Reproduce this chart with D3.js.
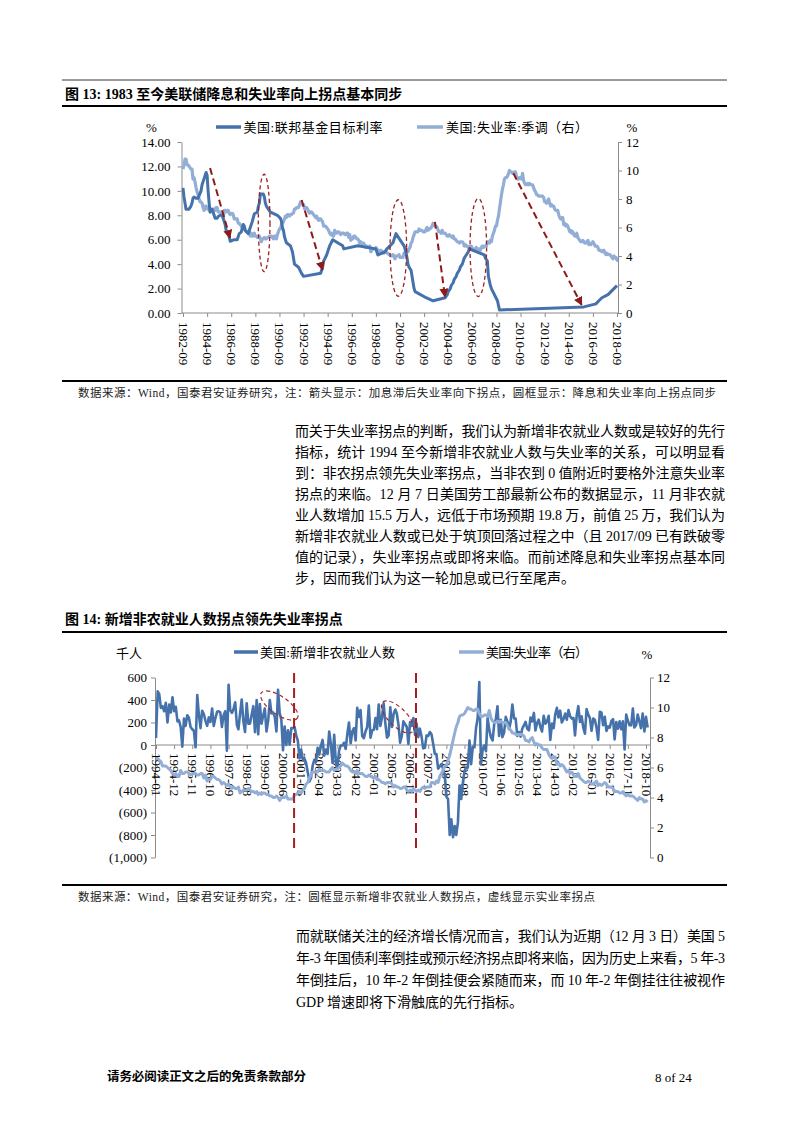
<!DOCTYPE html>
<html><head><meta charset="utf-8">
<script src="https://cdn.jsdelivr.net/npm/d3@7"></script>
<style>body{margin:0;background:#fff}</style>
</head><body>
<svg id="page" width="793" height="1122"></svg>
<script>
// ===== DATA =====
// US unemployment rate (SA, %), monthly from 1982-09
const unempStart = "1982-09";
const unemploymentRate = [
 10.1,10.4,10.8,10.8,
 10.4,10.4,10.3,10.2,10.1,10.1,9.4,9.5,9.2,8.8,8.5,8.3,
 8.0,7.8,7.8,7.7,7.4,7.2,7.5,7.5,7.3,7.4,7.2,7.3,
 7.3,7.2,7.2,7.3,7.2,7.4,7.4,7.1,7.1,7.1,7.0,7.0,
 6.7,7.2,7.2,7.1,7.2,7.2,7.0,6.9,7.0,7.0,6.9,6.6,
 6.6,6.6,6.6,6.3,6.3,6.2,6.1,6.0,5.9,6.0,5.8,5.7,
 5.7,5.7,5.7,5.4,5.6,5.4,5.4,5.6,5.4,5.4,5.3,5.3,
 5.4,5.2,5.0,5.2,5.2,5.3,5.2,5.2,5.3,5.3,5.4,5.4,
 5.4,5.3,5.2,5.4,5.4,5.2,5.5,5.7,5.9,5.9,6.2,6.3,
 6.4,6.6,6.8,6.7,6.9,6.9,6.8,6.9,6.9,7.0,7.0,7.3,
 7.3,7.4,7.4,7.4,7.6,7.8,7.7,7.6,7.6,7.3,7.4,7.4,
 7.3,7.1,7.0,7.1,7.1,7.0,6.9,6.8,6.7,6.8,6.6,6.5,
 6.6,6.6,6.5,6.4,6.1,6.1,6.1,6.0,5.9,5.8,5.6,5.5,
 5.6,5.4,5.4,5.8,5.6,5.6,5.7,5.7,5.6,5.5,5.6,5.6,
 5.6,5.5,5.5,5.6,5.6,5.3,5.5,5.1,5.2,5.2,5.4,5.4,
 5.3,5.2,5.2,5.1,4.9,5.0,4.9,4.8,4.9,4.7,4.6,4.7,
 4.6,4.6,4.7,4.3,4.4,4.5,4.5,4.5,4.6,4.5,4.4,4.4,
 4.3,4.4,4.2,4.3,4.2,4.3,4.3,4.2,4.2,4.1,4.1,4.0,
 4.0,4.1,4.0,3.8,4.0,4.0,4.0,4.1,3.9,3.9,3.9,3.9,
 4.2,4.2,4.3,4.4,4.3,4.5,4.6,4.9,5.0,5.3,5.5,5.7,
 5.7,5.7,5.7,5.9,5.8,5.8,5.8,5.7,5.7,5.7,5.9,6.0,
 5.8,5.9,5.9,6.0,6.1,6.3,6.2,6.1,6.1,6.0,5.8,5.7,
 5.7,5.6,5.8,5.6,5.6,5.6,5.5,5.4,5.4,5.5,5.4,5.4,
 5.3,5.4,5.2,5.2,5.1,5.0,5.0,4.9,5.0,5.0,5.0,4.9,
 4.7,4.8,4.7,4.7,4.6,4.6,4.7,4.7,4.5,4.4,4.5,4.4,
 4.6,4.5,4.4,4.5,4.4,4.6,4.7,4.6,4.7,4.7,4.7,5.0,
 5.0,4.9,5.1,5.0,5.4,5.6,5.8,6.1,6.1,6.5,6.8,7.3,
 7.8,8.3,8.7,9.0,9.4,9.5,9.5,9.6,9.8,10.0,9.9,9.9,
 9.8,9.8,9.9,9.9,9.6,9.4,9.4,9.5,9.5,9.4,9.8,9.3,
 9.1,9.0,9.0,9.1,9.0,9.1,9.0,9.0,9.0,8.8,8.6,8.5,
 8.3,8.3,8.2,8.2,8.2,8.2,8.2,8.1,7.8,7.8,7.7,7.9,
 8.0,7.7,7.5,7.6,7.5,7.5,7.3,7.2,7.2,7.2,6.9,6.7,
 6.6,6.7,6.7,6.2,6.3,6.1,6.2,6.1,5.9,5.7,5.8,5.6,
 5.7,5.5,5.4,5.4,5.6,5.3,5.2,5.1,5.0,5.0,5.1,5.0,
 4.9,4.9,5.0,5.1,4.8,4.9,4.8,4.9,5.0,4.9,4.7,4.7,
 4.7,4.6,4.4,4.4,4.4,4.3,4.3,4.4,4.2,4.1,4.2,4.1,
 4.1,4.1,4.0,3.9,3.8,4.0,3.9,3.9,3.7,3.8,3.7
];

// Fed funds target rate (%), at each change date
const fedDates = ["1982-09","1982-10","1982-11","1982-12","1983-03","1983-05","1983-06","1983-07","1983-08","1983-10","1983-12",
 "1984-03","1984-04","1984-06","1984-08","1984-09","1984-10","1984-11","1984-12","1985-02","1985-04","1985-05","1985-07","1985-08","1985-10","1985-12",
 "1986-03","1986-04","1986-07","1986-08","1986-12","1987-03","1987-05","1987-07","1987-09","1987-10","1987-11",
 "1988-02","1988-03","1988-05","1988-06","1988-08","1988-11","1988-12","1989-01","1989-02","1989-05","1989-06","1989-07","1989-08","1989-10","1989-12",
 "1990-07","1990-10","1990-11","1990-12","1991-01","1991-02","1991-03","1991-04","1991-08","1991-09","1991-10","1991-11","1991-12",
 "1992-04","1992-07","1992-09","1994-02","1994-03","1994-04","1994-05","1994-08","1994-11","1995-02","1995-07","1995-12","1996-01",
 "1997-03","1998-09","1998-10","1998-11","1999-06","1999-08","1999-11","2000-02","2000-03","2000-05",
 "2001-01","2001-03","2001-04","2001-05","2001-06","2001-08","2001-09","2001-10","2001-11","2001-12","2002-11","2003-06",
 "2004-06","2004-08","2004-09","2004-11","2004-12","2005-02","2005-03","2005-05","2005-06","2005-08","2005-09","2005-11","2005-12",
 "2006-01","2006-03","2006-05","2006-06","2007-09","2007-10","2007-12","2008-01","2008-03","2008-04","2008-10","2008-12",
 "2015-12","2016-12","2017-03","2017-06","2017-12","2018-03","2018-06","2018-09"];
const fedRates = [10.25,9.5,9.0,8.5,8.5,8.75,9.0,9.4,9.5,9.4,9.4,
 10.0,10.5,11.0,11.5,11.25,10.0,9.0,8.25,8.5,8.0,7.75,7.75,7.9,8.0,8.0,
 7.25,6.75,6.25,5.875,6.0,6.0,6.5,6.625,7.25,7.125,6.75,
 6.5,6.75,7.25,7.5,8.125,8.25,8.75,9.0,9.75,9.75,9.5,9.0,8.75,8.5,8.25,
 8.0,7.75,7.5,7.0,6.75,6.25,6.0,5.75,5.5,5.25,5.0,4.5,4.0,
 3.75,3.25,3.0,3.25,3.5,3.75,4.25,4.75,5.5,6.0,5.75,5.5,5.25,
 5.5,5.25,5.0,4.75,5.0,5.25,5.5,5.75,6.0,6.5,
 5.5,5.0,4.5,4.0,3.75,3.5,3.0,2.5,2.0,1.75,1.25,1.0,
 1.25,1.5,1.75,2.0,2.25,2.5,2.75,3.0,3.25,3.5,3.75,4.0,4.25,
 4.5,4.75,5.0,5.25,4.75,4.5,4.25,3.0,2.25,2.0,1.0,0.25,
 0.5,0.75,1.0,1.25,1.5,1.75,2.0,2.25];

// US nonfarm payrolls, monthly change (thousands), from 1994-01
const nfpStart = "1994-01";
const nonfarmPayrolls = [
 62,477,455,330,345,300,375,200,360,290,425,300,
 340,210,220,160,-15,235,170,265,240,160,140,125,
 -20,445,275,150,305,275,215,170,245,205,325,170,
 240,295,300,290,160,265,300,-50,536,310,285,320,
 380,180,140,280,405,210,115,370,190,190,270,345,
 115,400,95,365,190,260,325,120,215,400,280,290,
 250,120,490,285,225,-46,165,0,130,2,150,150,
 160,80,40,-120,-40,-130,-120,-160,-245,-325,-290,-180,
 -130,-150,-25,-85,-10,45,-95,-40,-80,120,10,-160,
 90,-160,-210,-50,-5,-5,20,-35,100,200,15,120,
 150,40,330,250,310,80,60,120,160,350,65,130,
 135,240,140,360,170,245,370,195,65,85,335,160,
 275,315,280,180,20,80,210,185,160,10,205,170,
 240,90,190,70,145,75,-30,-25,85,80,115,95,
 10,-80,-80,-210,-190,-170,-210,-270,-460,-480,-800,-660,
 -820,-720,-800,-690,-360,-480,-340,-230,-200,-200,40,-170,
 -15,-20,150,240,560,-170,-45,-5,-55,240,135,70,
 40,190,225,345,80,225,70,110,250,210,140,210,
 360,235,235,80,115,75,145,175,205,145,130,245,
 210,285,130,195,225,160,120,260,190,210,260,45,
 190,150,270,330,245,305,200,230,280,225,310,255,
 235,240,85,260,345,205,255,155,100,320,270,240,
 125,235,225,155,45,295,290,175,250,125,165,155,
 215,230,50,205,145,210,140,210,-40,270,215,175,
 175,325,155,175,270,210,150,280,120,250,155
];

// Tick labels
const chart1XTicks = ["1982-09","1984-09","1986-09","1988-09","1990-09","1992-09","1994-09","1996-09","1998-09","2000-09","2002-09","2004-09","2006-09","2008-09","2010-09","2012-09","2014-09","2016-09","2018-09"];
const chart1LeftTicks = [0,2,4,6,8,10,12,14];
const chart1RightTicks = [0,2,4,6,8,10,12];
const chart2XTicks = ["1994-01","1994-12","1995-11","1996-10","1997-09","1998-08","1999-07","2000-06","2001-05","2002-04","2003-03","2004-02","2005-01","2005-12","2006-11","2007-10","2008-09","2009-08","2010-07","2011-06","2012-05","2013-04","2014-03","2015-02","2016-01","2016-12","2017-11","2018-10"];
const chart2LeftTicks = [-1000,-800,-600,-400,-200,0,200,400,600];
const chart2RightTicks = [0,2,4,6,8,10,12];

// Annotations (in data coordinates)
const chart1Arrows = [ // [startYear, startValue, endYear, endValue] on left axis
 [1984.91,11.87,1986.57,6.14],[1992.51,9.25,1994.25,3.52],[2003.57,7.47,2004.40,1.33],[2010.07,11.44,2015.74,0.65]];
const chart1Ellipses = [ // [centerYear, centerValue, halfWidthYears, halfHeightValue]
 [1989.40,7.37,0.48,3.99],[2000.53,5.32,0.69,3.95],[2007.16,5.36,0.69,4.01]];
const chart2VLines = ["2000-12-22","2007-02-18"];
const chart2Ellipses = [["2000-03-25",351,22,9,35],["2006-03-15",249,21,9,45]];

// ===== DRAW =====
const svg = d3.select("#page");
svg.append("rect").attr("width",793).attr("height",1122).attr("fill","#fff");
const SERIF = "'Liberation Serif','Times New Roman','Noto Sans CJK SC',serif";
const parseM = d3.timeParse("%Y-%m");
const parseD = d3.timeParse("%Y-%m-%d");
const monthAt = (start,i) => d3.timeMonth.offset(parseM(start), i);
const yearToDate = y => { const yr=Math.floor(y); const f=(y-yr)*12; const m=Math.floor(f); return new Date(yr, m, 1+Math.round((f-m)*30)); };
const DARK="#4572AB", LIGHT="#93AED6", RED="#8E1A1A", AXIS="#8c8c8c";

function txt(x,y,s,o={}){
  const t=svg.append("text").attr("x",x).attr("y",y).text(s)
    .attr("font-family",o.family||SERIF).attr("font-size",o.size||13)
    .attr("font-weight",o.weight||400).attr("fill",o.fill||"#000")
    .attr("dominant-baseline","central");
  if(o.anchor) t.attr("text-anchor",o.anchor);
  if(o.len) t.attr("textLength",o.len).attr("lengthAdjust","spacing");
  return t;
}
function hline(y,w){ svg.append("line").attr("x1",62).attr("x2",727).attr("y1",y).attr("y2",y).attr("stroke","#000").attr("stroke-width",w); }

hline(80,0.8); hline(106,2.2); hline(381,2.2); hline(632,2.2); hline(885,2.2);

const defs=svg.append("defs");
defs.append("marker").attr("id","ah").attr("viewBox","0 0 10 10").attr("refX",9).attr("refY",5)
  .attr("markerWidth",4.5).attr("markerHeight",4.5).attr("orient","auto")
  .append("path").attr("d","M0,0L10,5L0,10Z").attr("fill",RED);
defs.append("clipPath").attr("id","c1").append("rect").attr("x",181.5).attr("y",120).attr("width",436.5).attr("height",200);
defs.append("clipPath").attr("id","c2").append("rect").attr("x",155).attr("y",660).attr("width",495).attr("height",210);

// Titles
txt(65,94,"图 13: 1983 至今美联储降息和失业率向上拐点基本同步",{size:14,weight:700});
txt(65,619,"图 14: 新增非农就业人数拐点领先失业率拐点",{size:14,weight:700});

function styleAxis(g){
  g.attr("font-family",SERIF).attr("font-size",13).attr("color","#000");
  g.selectAll("line").attr("stroke",AXIS);
  g.selectAll("path").attr("stroke",AXIS);
}

// ---------- Chart 1 ----------
const x1=d3.scaleTime().domain([parseM("1982-09"),parseM("2018-09")]).range([183,617]);
const yL1=d3.scaleLinear().domain([0,14]).range([313,142]);
const yR1=d3.scaleLinear().domain([0,12]).range([313,142]);

svg.append("g").attr("transform","translate(181.5,0)")
  .call(d3.axisLeft(yL1).tickValues(chart1LeftTicks).tickFormat(d3.format(".2f")).tickSize(4).tickSizeOuter(0).tickPadding(7))
  .call(styleAxis);
svg.append("g").attr("transform","translate(618,0)")
  .call(d3.axisRight(yR1).tickValues(chart1RightTicks).tickFormat(d3.format("d")).tickSize(4).tickSizeOuter(0).tickPadding(4))
  .call(styleAxis);
const gx1=svg.append("g").attr("transform","translate(0,313)")
  .call(d3.axisBottom(x1).tickValues(chart1XTicks.map(parseM)).tickFormat(d3.timeFormat("%Y-%m")).tickSize(4).tickSizeOuter(0))
  .call(styleAxis);
gx1.select("path").remove();
gx1.selectAll("text").attr("transform","rotate(90)").attr("x",9).attr("y",0).attr("dy","0.35em").attr("text-anchor","start");
svg.append("line").attr("x1",181.5).attr("x2",618).attr("y1",313).attr("y2",313).attr("stroke",AXIS);

const unempData=unemploymentRate.map((v,i)=>({date:monthAt(unempStart,i),v}));
const fedData=fedDates.map((d,i)=>({date:parseM(d),v:fedRates[i]}));
const p1=svg.append("g").attr("clip-path","url(#c1)");
p1.append("path").datum(unempData).attr("fill","none").attr("stroke",LIGHT).attr("stroke-width",3.2).attr("stroke-linejoin","round")
  .attr("d",d3.line().x(d=>x1(d.date)).y(d=>yR1(d.v)));
p1.append("path").datum(fedData).attr("fill","none").attr("stroke",DARK).attr("stroke-width",3).attr("stroke-linejoin","round")
  .attr("d",d3.line().x(d=>x1(d.date)).y(d=>yL1(d.v)));

chart1Ellipses.forEach(e=>{
  const cx=x1(yearToDate(e[0])), rx=x1(yearToDate(e[0]+e[2]))-cx;
  svg.append("ellipse").attr("cx",cx).attr("cy",yL1(e[1])).attr("rx",rx).attr("ry",yL1(0)-yL1(e[3]))
   .attr("fill","none").attr("stroke","#9B2222").attr("stroke-width",1.3).attr("stroke-dasharray","4,3");
});
chart1Arrows.forEach(a=>{
  svg.append("line").attr("x1",x1(yearToDate(a[0]))).attr("y1",yL1(a[1])).attr("x2",x1(yearToDate(a[2]))).attr("y2",yL1(a[3]))
   .attr("stroke",RED).attr("stroke-width",2).attr("stroke-dasharray","7,4").attr("marker-end","url(#ah)");
});

// Legend chart 1
txt(151.5,127,"%",{size:13,anchor:"middle"});
txt(632,127,"%",{size:13,anchor:"middle"});
svg.append("line").attr("x1",216).attr("x2",241).attr("y1",127).attr("y2",127).attr("stroke",DARK).attr("stroke-width",3.5);
txt(243.5,127,"美国:联邦基金目标利率",{size:13,len:139});
svg.append("line").attr("x1",417).attr("x2",443).attr("y1",127).attr("y2",127).attr("stroke",LIGHT).attr("stroke-width",3.5);
txt(446,127,"美国:失业率:季调（右）",{size:13,len:142});

txt(78,393,"数据来源：Wind，国泰君安证券研究，注：箭头显示：加息滞后失业率向下拐点，圆框显示：降息和失业率向上拐点同步",{size:11.5,len:638,fill:"#222"});

// Paragraph 1
const para1=["而关于失业率拐点的判断，我们认为新增非农就业人数或是较好的先行",
"指标，统计 1994 至今新增非农就业人数与失业率的关系，可以明显看",
"到：非农拐点领先失业率拐点，当非农到 0 值附近时要格外注意失业率",
"拐点的来临。12 月 7 日美国劳工部最新公布的数据显示，11 月非农就",
"业人数增加 15.5 万人，远低于市场预期 19.8 万，前值 25 万，我们认为",
"新增非农就业人数或已处于筑顶回落过程之中（且 2017/09 已有跌破零",
"值的记录），失业率拐点或即将来临。而前述降息和失业率拐点基本同",
"步，因而我们认为这一轮加息或已行至尾声。"];
para1.forEach((s,i)=>txt(295,431+i*21,s,{size:14,len:i<para1.length-1?430:null}));

// ---------- Chart 2 ----------
const x2=d3.scaleTime().domain([parseM("1994-01"),parseM("2018-10")]).range([156,646]);
const yL2=d3.scaleLinear().domain([-1000,600]).range([857.5,677.5]);
const yR2=d3.scaleLinear().domain([0,12]).range([857.5,677.5]);
const fmtK=v=>v<0?"("+d3.format(",")(-v)+")":d3.format(",")(v);

svg.append("g").attr("transform","translate(155,0)")
  .call(d3.axisLeft(yL2).tickValues(chart2LeftTicks).tickFormat(fmtK).tickSize(4).tickSizeOuter(0).tickPadding(4))
  .call(styleAxis);
svg.append("g").attr("transform","translate(650,0)")
  .call(d3.axisRight(yR2).tickValues(chart2RightTicks).tickFormat(d3.format("d")).tickSize(4).tickSizeOuter(0).tickPadding(3))
  .call(styleAxis);
const gx2=svg.append("g").attr("transform",`translate(0,${yL2(0)})`)
  .call(d3.axisBottom(x2).tickValues(chart2XTicks.map(parseM)).tickFormat(d3.timeFormat("%Y-%m")).tickSize(4).tickSizeOuter(0))
  .call(styleAxis);
gx2.select("path").remove();
gx2.selectAll("text").attr("transform","rotate(90)").attr("x",8).attr("y",0).attr("dy","0.35em").attr("text-anchor","start");
svg.append("line").attr("x1",155).attr("x2",650).attr("y1",yL2(0)).attr("y2",yL2(0)).attr("stroke",AXIS);

const nfpData=nonfarmPayrolls.map((v,i)=>({date:monthAt(nfpStart,i),v}));
const unemp2=unempData.filter(d=>d.date>=parseM(nfpStart));
const p2=svg.append("g").attr("clip-path","url(#c2)");
p2.append("path").datum(nfpData).attr("fill","none").attr("stroke",DARK).attr("stroke-width",2.6).attr("stroke-linejoin","round")
  .attr("d",d3.line().x(d=>x2(d.date)).y(d=>yL2(d.v)));
p2.append("path").datum(unemp2).attr("fill","none").attr("stroke",LIGHT).attr("stroke-width",3).attr("stroke-linejoin","round")
  .attr("d",d3.line().x(d=>x2(d.date)).y(d=>yR2(d.v)));

chart2VLines.forEach(d=>{
  const xx=x2(parseD(d));
  svg.append("line").attr("x1",xx).attr("x2",xx).attr("y1",yL2(640)).attr("y2",yL2(-915))
   .attr("stroke","#A51E1E").attr("stroke-width",2).attr("stroke-dasharray","10,5");
});
chart2Ellipses.forEach(e=>{
  const cx=x2(parseD(e[0])), cy=yL2(e[1]);
  svg.append("ellipse").attr("cx",cx).attr("cy",cy).attr("rx",e[2]).attr("ry",e[3])
   .attr("transform",`rotate(${e[4]},${cx},${cy})`)
   .attr("fill","none").attr("stroke","#A52A2A").attr("stroke-width",1.2).attr("stroke-dasharray","4,3");
});

// Legend chart 2
txt(129,653,"千人",{size:13,anchor:"middle"});
txt(647,654,"%",{size:13,anchor:"middle"});
svg.append("line").attr("x1",234).attr("x2",258).attr("y1",652).attr("y2",652).attr("stroke",DARK).attr("stroke-width",3.5);
txt(260,652,"美国:新增非农就业人数",{size:13,len:135});
svg.append("line").attr("x1",459).attr("x2",484).attr("y1",652).attr("y2",652).attr("stroke",LIGHT).attr("stroke-width",3.5);
txt(486,652,"美国:失业率（右）",{size:13,len:102});

txt(78,897,"数据来源：Wind，国泰君安证券研究，注：圆框显示新增非农就业人数拐点，虚线显示实业率拐点",{size:11.5,len:517,fill:"#222"});

// Paragraph 2
const para2=["而就联储关注的经济增长情况而言，我们认为近期（12 月 3 日）美国 5",
"年-3 年国债利率倒挂或预示经济拐点即将来临，因为历史上来看，5 年-3",
"年倒挂后，10 年-2 年倒挂便会紧随而来，而 10 年-2 年倒挂往往被视作",
"GDP 增速即将下滑触底的先行指标。"];
para2.forEach((s,i)=>txt(296,936+i*22.3,s,{size:14,len:i<para2.length-1?429:null}));

// Footer
txt(107,1077,"请务必阅读正文之后的免责条款部分",{size:12.5,weight:700,len:199});
txt(655,1077,"8 of 24",{size:13});
</script>
</body></html>
